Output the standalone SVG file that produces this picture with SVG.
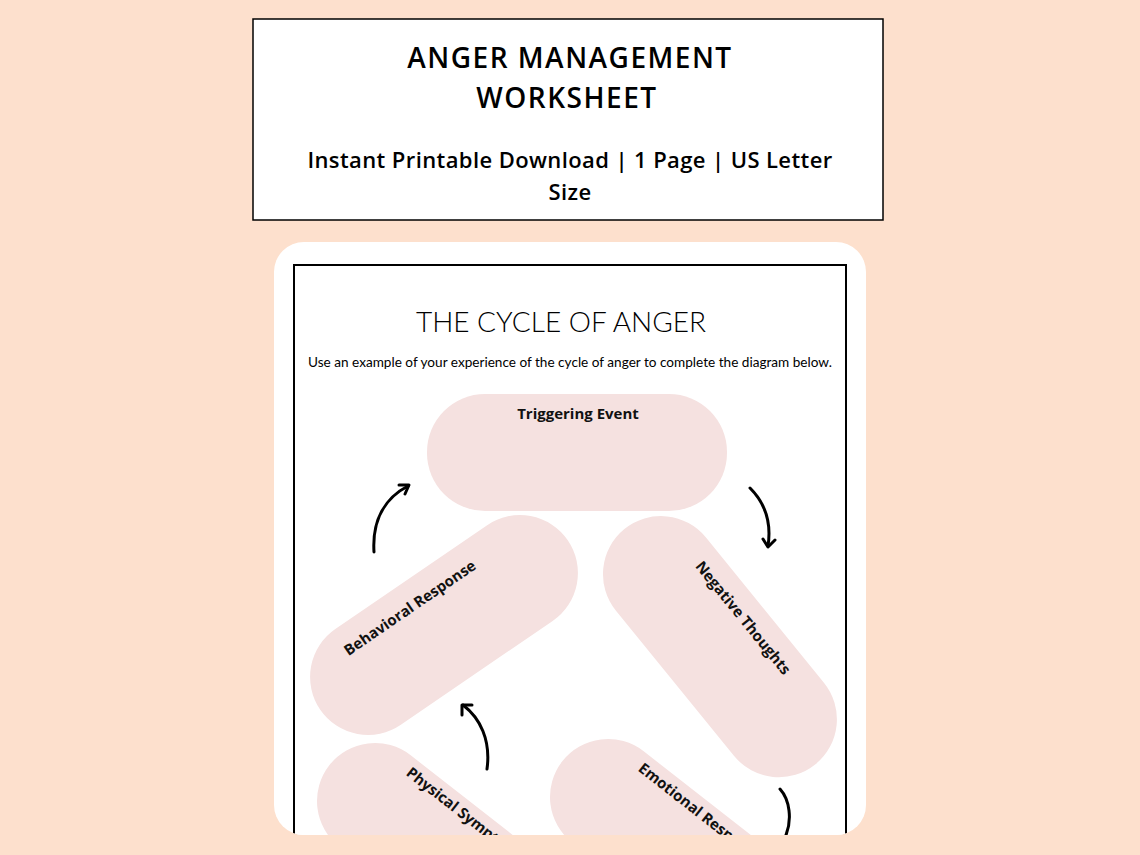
<svg xmlns="http://www.w3.org/2000/svg" width="1140" height="855" viewBox="0 0 1140 855">
<style>
.pill{fill:#f5e1e0}
.lbl{font-family:"Open Sans",sans-serif;font-weight:bold;font-size:15px;fill:#111;text-anchor:middle}
.arr{fill:none;stroke:#000;stroke-width:3;stroke-linecap:round;stroke-linejoin:round}
.hd{font-family:"Open Sans","Liberation Sans",sans-serif;fill:#000;text-anchor:middle;font-weight:600}
.sub{font-family:Lato,"Liberation Sans",sans-serif;fill:#000;text-anchor:middle}
</style>
<defs>
<clipPath id="card"><rect x="274" y="242" width="592" height="593" rx="30"/></clipPath>
</defs>
<rect width="1140" height="855" fill="#fde0cd"/>
<g id="header">
<rect x="253" y="19" width="630" height="201" fill="#fff" stroke="#000" stroke-width="1.5"/>
<text class="hd" x="570" y="68" font-size="28" letter-spacing="1.5">ANGER MANAGEMENT</text>
<text class="hd" x="567" y="108" font-size="28" letter-spacing="1.5">WORKSHEET</text>
<text class="hd" x="570" y="168" font-size="22" letter-spacing="0.4">Instant Printable Download | 1 Page | US Letter</text>
<text class="hd" x="570" y="200" font-size="22" letter-spacing="0.4">Size</text>
</g>
<rect x="274" y="242" width="592" height="593" rx="30" fill="#fff"/>
<g clip-path="url(#card)">
<rect x="294" y="265" width="552" height="620" fill="#fff" stroke="#000" stroke-width="2"/>
<text class="sub" x="561" y="332" font-size="28" font-weight="300">THE CYCLE OF ANGER</text>
<text class="sub" x="570" y="367" font-size="13.6">Use an example of your experience of the cycle of anger to complete the diagram below.</text>
<g id="triggering"><rect class="pill" x="427" y="394" width="300" height="117" rx="58"/><text class="lbl" x="578" y="419">Triggering Event</text></g>
<g id="behavioral"><rect class="pill" x="294" y="567" width="300" height="116" rx="58" transform="rotate(-34.4 444 625)"/><text class="lbl" x="410" y="613" transform="rotate(-34.4 410 608)">Behavioral Response</text></g>
<g id="negative"><rect class="pill" x="569" y="587.5" width="303" height="116" rx="58" transform="rotate(50.9 719 645.5)"/><text class="lbl" x="743" y="623" transform="rotate(50.9 743 618)">Negative Thoughts</text></g>
<g id="physical"><rect class="pill" x="317" y="743" width="300" height="116" rx="58" transform="rotate(38 375 801)"/><text class="lbl" x="465" y="820" transform="rotate(38 465 815)">Physical Symptoms</text></g>
<g id="emotional"><rect class="pill" x="550" y="739" width="300" height="116" rx="58" transform="rotate(38 608 797)"/><text class="lbl" x="700" y="818" transform="rotate(38 700 813)">Emotional Response</text></g>
<g id="connectors">
<path class="arr" d="M374,552 C372,520 385,498 408,486"/>
<path class="arr" d="M399,485 L409,485 L405,494"/>
<path class="arr" d="M750,488 C764,502 772,520 768,546"/>
<path class="arr" d="M763,539 L768,547 L775,540"/>
<path class="arr" d="M487,769 C491,740 480,718 463,705"/>
<path class="arr" d="M462,715 L462,705 L472,705"/>
<path class="arr" d="M780,789 C790,800 792,820 786,835"/>
</g>
</g>
</svg>
